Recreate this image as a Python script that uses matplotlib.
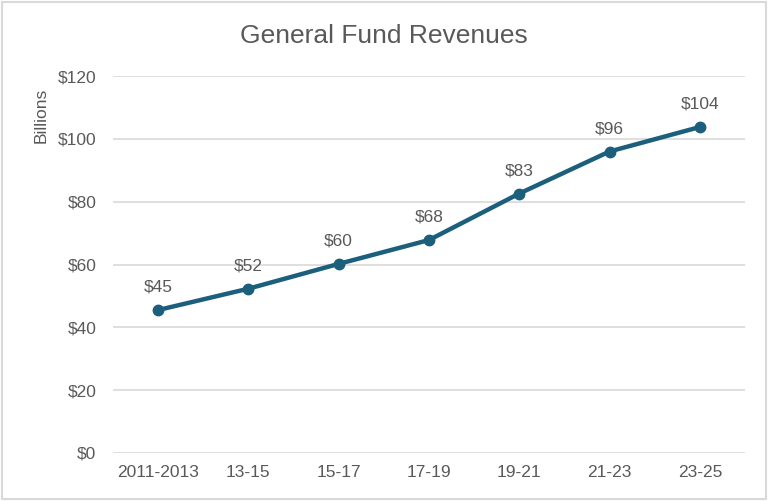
import matplotlib
matplotlib.use("Agg")
import matplotlib.pyplot as plt
from matplotlib.patches import Rectangle

categories = ["2011-2013", "13-15", "15-17", "17-19", "19-21", "21-23", "23-25"]
values = [45.5, 52.3, 60.2, 67.8, 82.6, 96.0, 103.8]
labels = ["$45", "$52", "$60", "$68", "$83", "$96", "$104"]
yticks = [0, 20, 40, 60, 80, 100, 120]

plt.rcParams['font.family'] = ['Liberation Sans', 'DejaVu Sans']
text_color = "#595959"
line_color = "#1c5f7d"
grid_color = "#d9d9d9"

fig = plt.figure(figsize=(7.68, 5.01), dpi=100)
ax = fig.add_axes([0.147, 0.096, 0.823, 0.752])

x = list(range(len(categories)))
ax.plot(x, values, color=line_color, lw=3.2, marker="o", ms=7.5, zorder=3)
for xi, v, lab in zip(x, values, labels):
    ax.annotate(lab, (xi, v), xytext=(0, 11), textcoords="offset points",
                ha="center", va="bottom", fontsize=12.5, color=text_color)

ax.set_xlim(-0.5, len(categories) - 0.5)
ax.set_ylim(0, 120)
ax.set_yticks(yticks)
ax.set_yticklabels([f"${t}" for t in yticks])
ax.set_xticks(x)
ax.set_xticklabels(categories)
ax.tick_params(axis="both", length=0, labelsize=12.5, labelcolor=text_color)
ax.tick_params(axis="x", pad=9)
ax.tick_params(axis="y", pad=12)
ax.grid(axis="y", color=grid_color, lw=1.2)
ax.set_axisbelow(True)
for s in ax.spines.values():
    s.set_visible(False)

ax.set_ylabel("Billions", fontsize=12.5, color=text_color)
ax.yaxis.set_label_coords(-0.102, 0.895)
fig.text(0.5, 0.928, "General Fund Revenues", ha="center", va="center",
         fontsize=19, color=text_color)

fig.patches.append(Rectangle((0.002, 0.003), 0.996, 0.994, transform=fig.transFigure,
                             fill=False, edgecolor="#d9d9d9", lw=1.5))

fig.savefig("out.png", dpi=100)
